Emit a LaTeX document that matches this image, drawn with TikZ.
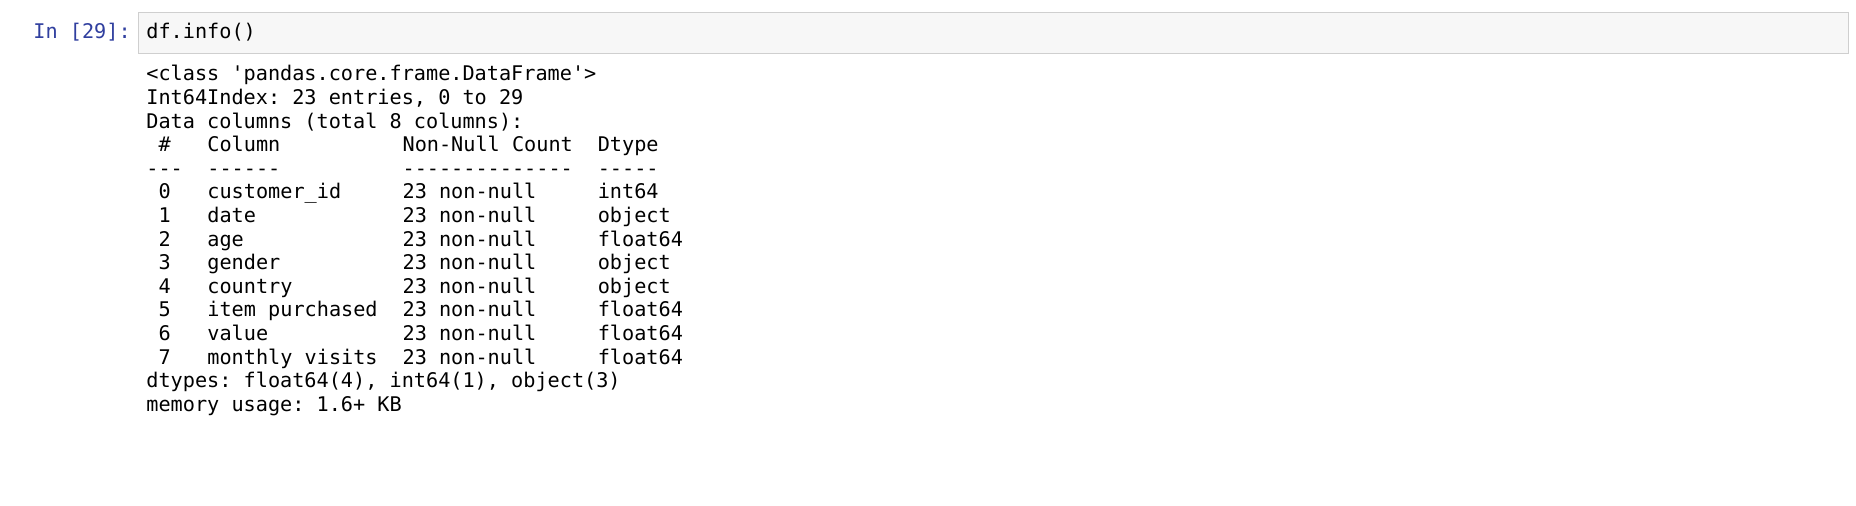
\documentclass[tikz,border=0pt]{standalone}
\usepackage{fontspec}
\setmonofont{DejaVu Sans Mono}
\definecolor{prompt}{HTML}{303F9F}
\definecolor{cellbg}{HTML}{F7F7F7}
\definecolor{cellbd}{HTML}{CFCFCF}
\begin{document}
\begin{tikzpicture}[x=0.5pt,y=-0.5pt,
  txt/.style={anchor=base west,inner sep=0pt,font=\ttfamily\fontsize{10.1pt}{12pt}\selectfont}]
\useasboundingbox (0,0) rectangle (1856,506);
\fill[white] (0,0) rectangle (1856,506);
\node[txt,text=prompt] (prompt) at (33,39) {In [29]:};
\draw[cellbd,fill=cellbg] (138,12) rectangle (1848,53);
\node[txt] (code) at (146,39) {df.info()};
\def\cw{12.2}
\def\ln#1{81+23.6*#1}
\node[txt] (l0) at (146,{\ln{0}}) {<class 'pandas.core.frame.DataFrame'>};
\node[txt] (l1) at (146,{\ln{1}}) {Int64Index: 23 entries, 0 to 29};
\node[txt] (l2) at (146,{\ln{2}}) {Data columns (total 8 columns):};
\node[txt] (h1) at ({146+1*\cw},{\ln{3}}) {\#};
\node[txt] (h2) at ({146+5*\cw},{\ln{3}}) {Column};
\node[txt] (h3) at ({146+21*\cw},{\ln{3}}) {Non-Null Count};
\node[txt] (h4) at ({146+37*\cw},{\ln{3}}) {Dtype};
\node[txt] (d1) at ({146+0*\cw},{\ln{4}}) {-{}-{}-};
\node[txt] (d2) at ({146+5*\cw},{\ln{4}}) {-{}-{}-{}-{}-{}-};
\node[txt] (d3) at ({146+21*\cw},{\ln{4}}) {-{}-{}-{}-{}-{}-{}-{}-{}-{}-{}-{}-{}-{}-};
\node[txt] (d4) at ({146+37*\cw},{\ln{4}}) {-{}-{}-{}-{}-};
\foreach \i/\n/\t in {0/customer\_id/int64,1/date/object,2/age/float64,3/gender/object,4/country/object,5/item purchased/float64,6/value/float64,7/monthly visits/float64}{
  \node[txt] (r\i a) at ({146+1*\cw},{\ln{(5+\i)}}) {\i};
  \node[txt] (r\i b) at ({146+5*\cw},{\ln{(5+\i)}}) {\n};
  \node[txt] (r\i c) at ({146+21*\cw},{\ln{(5+\i)}}) {23 non-null};
  \node[txt] (r\i d) at ({146+37*\cw},{\ln{(5+\i)}}) {\t};
}
\node[txt] (f1) at (146,{\ln{13}}) {dtypes: float64(4), int64(1), object(3)};
\node[txt] (f2) at (146,{\ln{14}}) {memory usage: 1.6+ KB};
\end{tikzpicture}
\end{document}
